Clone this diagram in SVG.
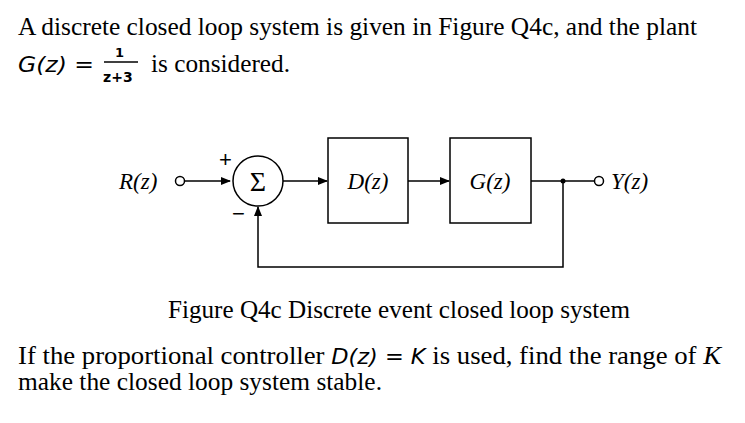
<svg xmlns="http://www.w3.org/2000/svg" width="745" height="423" viewBox="0 0 745 423">
<defs><marker id="a" markerWidth="10" markerHeight="8" refX="9" refY="4" orient="auto" markerUnits="userSpaceOnUse"><path d="M0,0 L10,4 L0,8 Z" fill="#000"/></marker></defs>
<style>.t{font-family:"Liberation Serif",serif;font-size:25px;fill:#000}.m{font-family:"DejaVu Sans",sans-serif;fill:#000}.d{font-family:"Liberation Serif",serif;font-style:italic;font-size:23px}.l{stroke:#000;stroke-width:1.5;fill:none}</style>
<rect width="745" height="423" fill="#fff"/>
<text class="t" x="18" y="35" textLength="679" lengthAdjust="spacingAndGlyphs">A discrete closed loop system is given in Figure Q4c, and the plant</text>
<text class="m" x="18" y="72" font-size="22" font-style="italic" textLength="76" lengthAdjust="spacingAndGlyphs">G(z) =</text>
<text class="m" x="115" y="57" font-size="13" font-weight="bold">1</text>
<line x1="104" y1="62" x2="138" y2="62" stroke="#000" stroke-width="1.5"/>
<text class="m" x="103" y="82" font-size="14" font-weight="bold">z+3</text>
<text class="t" x="151" y="72" textLength="139" lengthAdjust="spacingAndGlyphs">is considered.</text>
<g id="connectors">
<path class="l" d="M185,181 H230" marker-end="url(#a)"/>
<path class="l" d="M283,181 H327" marker-end="url(#a)"/>
<path class="l" d="M408,181 H449" marker-end="url(#a)"/>
<path class="l" d="M531,181 H594"/>
<path class="l" d="M563,181 V267 H258 V207" marker-end="url(#a)"/>
<circle cx="563" cy="181" r="2.5" fill="#000"/>
</g>
<g id="R"><circle cx="180" cy="181" r="4.5" fill="#fff" stroke="#000" stroke-width="1.5"/><text class="d" x="119" y="189">R(z)</text></g>
<g id="sum"><circle cx="258" cy="181" r="25" fill="#fff" stroke="#000" stroke-width="1.5"/><text x="258" y="191" text-anchor="middle" font-family="Liberation Serif,serif" font-size="28">Σ</text><text x="219" y="167" font-family="Liberation Sans,sans-serif" font-size="22">+</text><text x="232" y="221" font-family="Liberation Sans,sans-serif" font-size="22">−</text></g>
<g id="D"><rect x="328" y="138" width="80" height="85" fill="#fff" stroke="#000" stroke-width="1.5"/><text class="d" x="368" y="189" text-anchor="middle">D(z)</text></g>
<g id="G"><rect x="450" y="138" width="81" height="85" fill="#fff" stroke="#000" stroke-width="1.5"/><text class="d" x="490" y="189" text-anchor="middle">G(z)</text></g>
<g id="Y"><circle cx="599" cy="181" r="4.5" fill="#fff" stroke="#000" stroke-width="1.5"/><text class="d" x="611" y="189">Y(z)</text></g>
<text class="t" x="168" y="318" textLength="462" lengthAdjust="spacingAndGlyphs">Figure Q4c Discrete event closed loop system</text>
<text class="t" x="18" y="364" textLength="703" lengthAdjust="spacingAndGlyphs">If the proportional controller <tspan font-family="DejaVu Sans,sans-serif" font-style="italic" font-size="21">D(z) = K</tspan>  is used, find the range of <tspan font-style="italic">K</tspan></text>
<text class="t" x="18" y="390" textLength="364" lengthAdjust="spacingAndGlyphs">make the closed loop system stable.</text>
</svg>
